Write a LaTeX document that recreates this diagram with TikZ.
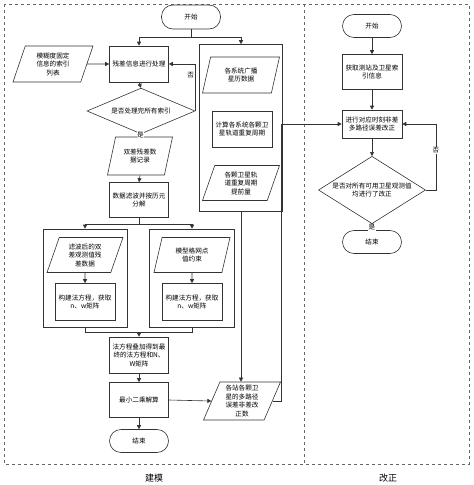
\documentclass[tikz,border=0pt]{standalone}
\usepackage{fontspec}
\newfontfamily\cjk{Noto Sans CJK SC}
\usetikzlibrary{shapes.geometric,arrows.meta}

\begin{document}
\begin{tikzpicture}[x=1pt,y=-1pt,
	font=\cjk\fontsize{6.6}{8.5}\selectfont,
	line/.style={draw=black!80, line width=0.6pt},
	arr/.style={line, -{Triangle[length=4pt,width=4pt]}},
	box/.style={line, rectangle, align=center, inner sep=1pt, minimum width=59, minimum height=35},
	grp/.style={line, rectangle, inner sep=0pt},
	term/.style={line, rectangle, rounded corners=11.5, minimum width=59, minimum height=24},
	para/.style={line, trapezium, trapezium left angle=64, trapezium right angle=116,
		trapezium stretches body, align=center, inner sep=1pt, minimum width=77, minimum height=36},
	dia/.style={line, diamond, align=center, inner sep=0pt, aspect=1.5},
	lab/.style={fill=white, inner sep=0.6pt}]

	\useasboundingbox (0,0) rectangle (474,485);

	% frame
	\draw[dashed, draw=black!60, line width=0.6pt] (4,4) rectangle (469,464);
	\draw[dashed, draw=black!60, line width=0.6pt] (304,4) -- (304,464);
	\node[font=\cjk\fontsize{9}{10}\selectfont] (t1) at (154,478) {建模};
	\node[font=\cjk\fontsize{9}{10}\selectfont] (t2) at (388,478) {改正};

	% left part
	\node[term] (s1) at (191,17) {开始};
	\node[para, minimum width=80] (idx) at (53,64) {模糊度固定\\信息的索引\\列表};
	\node[box, minimum height=36] (proc) at (139,64) {残差信息进行处理};
	\node[dia, minimum width=108, minimum height=37] (d1) at (141,111) {是否处理完所有索引};
	\node[para, minimum width=65, minimum height=38] (rec) at (140,156) {双差残差数\\据记录};
	\node[box] (filt) at (139,200) {数据滤波并按历元\\分解};

	\node[grp, minimum width=84, minimum height=98] (gl) at (85,278) {};
	\node[grp, minimum width=85, minimum height=98] (gr) at (192,278) {};
	\node[para, minimum width=76, minimum height=35] (pl) at (85,255) {滤波后的双\\差观测值残\\差数据};
	\node[box, minimum width=60, minimum height=37] (bl) at (85,302) {构建法方程，获取\\n、w矩阵};
	\node[para, minimum width=76, minimum height=35] (pr) at (192,255) {模型格网点\\值约束};
	\node[box, minimum width=60, minimum height=37] (br) at (192,302) {构建法方程，获取\\n、w矩阵};
	\coordinate (j) at (139,332);

	\node[box, minimum height=36] (sum) at (139,355) {法方程叠加得到最\\终的法方程和N、\\W矩阵};
	\node[box] (lsq) at (139,400) {最小二乘解算};
	\node[term, minimum height=23] (e1) at (139,441) {结束};

	\node[grp, minimum width=83, minimum height=167] (big) at (241,128) {};
	\node[para] (eph) at (241,75) {各系统广播\\星历数据};
	\node[box, minimum width=60, minimum height=36] (per) at (242,129) {计算各系统各颗卫\\星轨道重复周期};
	\node[para, minimum height=35] (adv) at (241,183) {各颗卫星轨\\道重复周期\\提前量};
	\node[para, minimum height=38] (corr) at (242,401) {各站各颗卫\\星的多路径\\误差非差改\\正数};

	% right part
	\node[term, minimum height=23] (s2) at (372,26) {开始};
	\node[box, minimum width=60] (get) at (372,72) {获取测站及卫星索\\引信息};
	\node[box, minimum width=60, minimum height=28] (fix) at (372,124) {进行对应时刻非差\\多路径误差改正};
	\node[dia, minimum width=107, minimum height=55] (d2) at (372,190) {是否对所有可用卫星观测值\\均进行了改正};
	\node[term, minimum height=23] (e2) at (372,242) {结束};

	% connectors
	\draw[arr] (s1.south) -- ++(0,8) -| (proc.north);
	\draw[arr] (s1.south) -- ++(0,8) -| (big.north);
	\draw[arr] (idx.east) -- (proc.west);
	\draw[arr] (proc.south) -- (d1.north);
	\draw[arr] (d1.east) |- node[pos=0.38, left, inner sep=1pt] {否} (proc.east);
	\draw[arr] (d1.south) -- node[lab] {是} (rec.north);
	\draw[arr] (rec.south) -- (filt.north);
	\draw[arr] (filt.south) -- ++(0,6) -| (gl.north);
	\draw[arr] (filt.south) -- ++(0,6) -| (gr.north);
	\draw[arr] (pl.south) -- (bl.north);
	\draw[arr] (pr.south) -- (br.north);
	\draw[line] (gl.south) |- (j);
	\draw[line] (gr.south) |- (j);
	\draw[arr] (j) -- (sum.north);
	\draw[arr] (sum.south) -- (lsq.north);
	\draw[arr] (lsq.south) -- (e1.north);
	\draw[arr] (lsq.east) -- (corr.west);
	\draw[arr] (big.south) -- (big.south |- corr.north);
	\draw[arr] (corr.east) -- ++(9,0) |- (fix.west);

	\draw[arr] (s2.south) -- (get.north);
	\draw[arr] (get.south) -- (fix.north);
	\draw[arr] (fix.south) -- (d2.north);
	\draw[arr] (d2.east) -- ++(10,0) |- node[pos=0.3, lab] {否} (fix.east);
	\draw[arr] (d2.south) -- node[lab] {是} (e2.north);

\end{tikzpicture}
\end{document}
